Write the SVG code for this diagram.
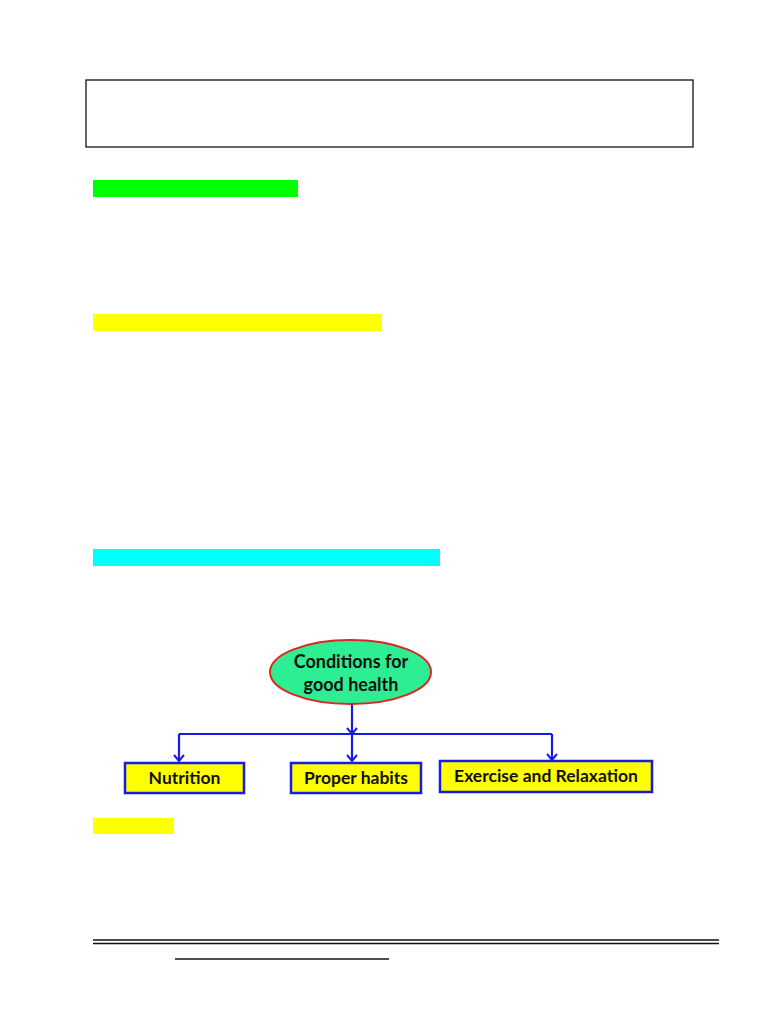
<svg xmlns="http://www.w3.org/2000/svg" width="768" height="1024" viewBox="0 0 768 1024">
<defs>
<style>
.t{font-family:Lato,"Open Sans","Liberation Sans",sans-serif;font-weight:bold;fill:#111;text-anchor:middle}
.box{fill:#FFFF00;stroke:#1A1AE6;stroke-width:2.5}
.con{fill:none;stroke:#1A1AE6;stroke-width:2.2}
</style>
<marker id="arr" markerWidth="12" markerHeight="12" refX="9" refY="6" orient="auto" markerUnits="userSpaceOnUse" viewBox="0 0 12 12">
<path d="M3,1 L9,6 L3,11" fill="none" stroke="#1A1AE6" stroke-width="2"/>
</marker>
</defs>
<rect width="768" height="1024" fill="#fff"/>
<rect x="86" y="80" width="607" height="67" fill="none" stroke="#111" stroke-width="1.3"/>
<rect x="93" y="180" width="205" height="17" fill="#00FF00"/>
<rect x="93" y="314" width="289" height="17" fill="#FFFF00"/>
<rect x="93" y="549" width="347" height="17" fill="#00FFFF"/>
<rect x="93" y="818" width="81" height="16" fill="#FFFF00"/>
<line x1="93" y1="940" x2="719" y2="940" stroke="#111" stroke-width="1.3"/>
<line x1="93" y1="943.5" x2="719" y2="943.5" stroke="#111" stroke-width="1.3"/>
<line x1="175" y1="959" x2="389" y2="959" stroke="#111" stroke-width="1.3"/>
<g id="connectors">
<path class="con" d="M352,704 V734" marker-end="url(#arr)"/>
<path class="con" d="M179,734 H552"/>
<path class="con" d="M179,734 V761" marker-end="url(#arr)"/>
<path class="con" d="M352,734 V761" marker-end="url(#arr)"/>
<path class="con" d="M552,734 V760" marker-end="url(#arr)"/>
</g>
<g id="root">
<ellipse cx="350.5" cy="672" rx="80.5" ry="32" fill="#2EEE93" stroke="#E02424" stroke-width="2"/>
<text class="t" x="351" y="668" font-size="18">Conditions for</text>
<text class="t" x="351" y="691" font-size="18">good health</text>
</g>
<g id="nutrition">
<rect class="box" x="125" y="763" width="119" height="30"/>
<text class="t" x="184.5" y="784" font-size="17.5">Nutrition</text>
</g>
<g id="habits">
<rect class="box" x="291" y="763" width="130" height="30"/>
<text class="t" x="356" y="784" font-size="17.5">Proper habits</text>
</g>
<g id="exercise">
<rect class="box" x="440" y="761" width="212" height="31"/>
<text class="t" x="546" y="782" font-size="17.5">Exercise and Relaxation</text>
</g>
</svg>
